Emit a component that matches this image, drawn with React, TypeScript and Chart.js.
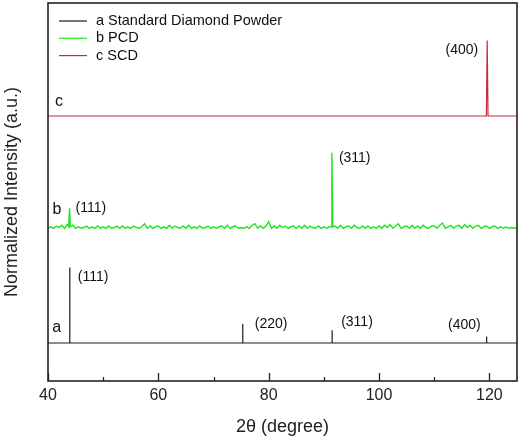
import { useEffect, useRef } from "react";
import { Chart, registerables } from "chart.js";

Chart.register(...registerables);

// ---------- data ----------
const X_MIN = 40;
const X_MAX = 125;
const xTicks = [40, 60, 80, 100, 120];
const xMinorTicks = [50, 70, 90, 110];

const seriesNames = ["a Standard Diamond Powder", "b PCD", "c SCD"];
const seriesLetters = ["a", "b", "c"];
const seriesColors = ["#1c1c1c", "#1ee61e", "#c8283a"];
// vertical offset of each stacked pattern (a.u., y axis 0..100)
const seriesOffsets = [10.05, 40.4, 70.1];
// normalized intensity (%) -> axis units
const INTENSITY_SCALE = 0.2;
const PEAK_FOOT = 0.15;

// a: standard diamond powder (stick pattern)
const aPeakTheta = [43.95, 75.3, 91.5, 119.5];
const aPeakIntensity = [100, 25, 17, 8.5];
const aPeakLabels = ["(111)", "(220)", "(311)", "(400)"];

// b: PCD
const bPeakTheta = [43.9, 91.45];
const bPeakIntensity = [26.5, 100];
const bPeakLabels = ["(111)", "(311)"];
const bNoiseStart = 40;
const bNoiseStep = 0.5;
const bNoise = [
  0, 2, 0, 3, 1, 4, 0, 5, 1, 4, 0, 2, 0, 1, 3, 0, 2, 0, 3, 0,
  2, 0, 3, 0, 1, 3, 0, 3, 0, 2, 0, 3, 1, 0, 2, 6, 0, 3, 0, 2,
  3, 0, 2, 0, 4, 0, 3, 1, 0, 3, 0, 4, 0, 2, 0, 3, 0, 1, 3, 0,
  2, 0, 2, 3, 0, 4, 0, 2, 3, 0, 1, 0, 2, 0, 4, 6, 0, 3, 0, 3,
  9, 0, 3, 0, 4, 1, 3, 0, 2, 3, 0, 3, 0, 4, 0, 3, 1, 0, 3, 0,
  2, 0, 2, 3, 3, 0, 4, 0, 2, 3, 0, 4, 1, 0, 3, 0, 3, 0, 2, 0,
  3, 0, 4, 1, 5, 0, 3, 6, 0, 2, 3, 0, 4, 0, 3, 0, 4, 1, 0, 3,
  3, 0, 4, 7, 0, 2, 4, 0, 3, 4, 0, 5, 1, 4, 0, 3, 4, 0, 2, 3,
  0, 2, 3, 0, 2, 0, 2, 0, 1, 0, 1,
];
const bFoot = 2;

// c: SCD
const cPeakTheta = [119.6];
const cPeakIntensity = [100];
const cPeakLabels = ["(400)"];

// ---------- label layout (pixel offsets) ----------
// dx: from peak pixel, dy: from series baseline pixel (text baseline), align
const aLabelLayout = [
  { dx: 8, dy: -61.6, align: "left" },
  { dx: 12, dy: -15, align: "left" },
  { dx: 9, dy: -16.6, align: "left" },
  { dx: -6, dy: -13.6, align: "right" },
];
const bLabelLayout = [
  { dx: 6, dy: -16.5, align: "left" },
  { dx: 7, dy: -66.3, align: "left" },
];
const cLabelLayout = [{ dx: -9, dy: -62, align: "right" }];
const letterLayout = [
  { dx: 8.7, dy: -11.3 },
  { dx: 9, dy: -14.3 },
  { dx: 11, dy: -10 },
];

const FONT = '"Liberation Sans", Arial, Helvetica, sans-serif';

type Pt = { x: number; y: number };

function sticks(theta: number[], inten: number[], offset: number): Pt[] {
  const pts: Pt[] = [{ x: X_MIN, y: offset }];
  theta.forEach((t, i) => {
    pts.push({ x: t, y: offset });
    pts.push({ x: t, y: offset + inten[i] * INTENSITY_SCALE });
    pts.push({ x: t, y: offset });
  });
  pts.push({ x: X_MAX, y: offset });
  return pts;
}

function peaked(theta: number[], inten: number[], offset: number, foot: number, noise?: number[]): Pt[] {
  const pts: Pt[] = [];
  if (noise) {
    noise.forEach((v, i) => {
      const t = bNoiseStart + i * bNoiseStep;
      if (theta.some((p) => Math.abs(p - t) < 0.3)) return;
      pts.push({ x: t, y: offset + v * INTENSITY_SCALE });
    });
  } else {
    pts.push({ x: X_MIN, y: offset });
    pts.push({ x: X_MAX, y: offset });
  }
  theta.forEach((t, i) => {
    pts.push({ x: t - PEAK_FOOT, y: offset + foot * INTENSITY_SCALE });
    pts.push({ x: t, y: offset + inten[i] * INTENSITY_SCALE });
    pts.push({ x: t + PEAK_FOOT, y: offset + foot * INTENSITY_SCALE });
  });
  pts.sort((p, q) => p.x - q.x);
  return pts;
}

const annotatePlugin = {
  id: "annotate",
  afterDatasetsDraw(chart: any) {
    const { ctx, chartArea } = chart;
    const x = chart.scales.x;
    const y = chart.scales.y;
    const { left, right, top, bottom } = chartArea;
    ctx.save();

    // frame
    ctx.strokeStyle = "#222";
    ctx.lineWidth = 1.6;
    ctx.strokeRect(left, top, right - left, bottom - top);

    // inward ticks
    ctx.lineWidth = 1.3;
    ctx.beginPath();
    xTicks.forEach((v) => {
      const px = Math.round(x.getPixelForValue(v)) + 0.5;
      ctx.moveTo(px, bottom);
      ctx.lineTo(px, bottom - 8);
    });
    xMinorTicks.forEach((v) => {
      const px = Math.round(x.getPixelForValue(v)) + 0.5;
      ctx.moveTo(px, bottom);
      ctx.lineTo(px, bottom - 4);
    });
    ctx.stroke();

    // legend
    ctx.font = `14.5px ${FONT}`;
    ctx.textBaseline = "middle";
    ctx.textAlign = "left";
    seriesNames.forEach((name, i) => {
      const cy = top + 18 + i * 17.3;
      ctx.strokeStyle = seriesColors[i];
      ctx.lineWidth = 1.2;
      ctx.beginPath();
      ctx.moveTo(left + 11, cy);
      ctx.lineTo(left + 39, cy);
      ctx.stroke();
      ctx.fillStyle = "#111";
      ctx.fillText(name, left + 48, cy);
    });

    // series letters
    ctx.font = `16px ${FONT}`;
    ctx.textBaseline = "alphabetic";
    ctx.textAlign = "center";
    ctx.fillStyle = "#111";
    seriesLetters.forEach((l, i) => {
      const by = y.getPixelForValue(seriesOffsets[i]);
      ctx.fillText(l, x.getPixelForValue(X_MIN) + letterLayout[i].dx, by + letterLayout[i].dy);
    });

    // peak labels
    ctx.font = `14px ${FONT}`;
    const drawLabels = (theta: number[], labels: string[], layout: any[], offset: number) => {
      const by = y.getPixelForValue(offset);
      theta.forEach((t, i) => {
        const L = layout[i];
        ctx.textAlign = L.align;
        ctx.fillText(labels[i], x.getPixelForValue(t) + L.dx, by + L.dy);
      });
    };
    drawLabels(aPeakTheta, aPeakLabels, aLabelLayout, seriesOffsets[0]);
    drawLabels(bPeakTheta, bPeakLabels, bLabelLayout, seriesOffsets[1]);
    drawLabels(cPeakTheta, cPeakLabels, cLabelLayout, seriesOffsets[2]);

    ctx.restore();
  },
};

export default function App() {
  const ref = useRef<HTMLCanvasElement | null>(null);

  useEffect(() => {
    if (!ref.current) return;
    const data = [
      sticks(aPeakTheta, aPeakIntensity, seriesOffsets[0]),
      peaked(bPeakTheta, bPeakIntensity, seriesOffsets[1], bFoot, bNoise),
      peaked(cPeakTheta, cPeakIntensity, seriesOffsets[2], 0),
    ];
    const chart = new Chart(ref.current, {
      type: "scatter",
      data: {
        datasets: data.map((d, i) => ({
          label: seriesNames[i],
          data: d,
          showLine: true,
          borderColor: seriesColors[i],
          backgroundColor: seriesColors[i],
          borderWidth: i === 1 ? 1.4 : 1.2,
          pointRadius: 0,
          tension: 0,
          fill: false,
        })),
      },
      options: {
        responsive: false,
        animation: false,
        events: [],
        layout: { padding: { top: 3, right: 3, left: 0, bottom: 0 } },
        plugins: {
          legend: { display: false },
          tooltip: { enabled: false },
        },
        scales: {
          x: {
            type: "linear",
            min: X_MIN,
            max: X_MAX,
            afterBuildTicks: (s: any) => {
              s.ticks = xTicks.map((v) => ({ value: v }));
            },
            afterFit: (s: any) => {
              s.height = 60;
            },
            grid: { display: false, drawTicks: false },
            border: { display: false },
            ticks: {
              padding: 5,
              color: "#222",
              font: { family: FONT, size: 16 },
              maxRotation: 0,
              autoSkip: false,
            },
            title: {
              display: true,
              text: "2θ (degree)",
              color: "#222",
              font: { family: FONT, size: 18 },
              padding: { top: 0, bottom: 3.2 },
            },
          },
          y: {
            type: "linear",
            min: 0,
            max: 100,
            afterFit: (s: any) => {
              s.width = 48;
            },
            grid: { display: false, drawTicks: false },
            border: { display: false },
            ticks: { display: false },
            title: {
              display: true,
              text: "Normalized Intensity (a.u.)",
              color: "#222",
              font: { family: FONT, size: 18 },
              padding: { top: 1, bottom: 0 },
            },
          },
        },
      },
      plugins: [annotatePlugin],
    } as any);
    return () => chart.destroy();
  }, []);

  return (
    <div style={{ position: "fixed", left: 0, top: 0, width: 520, height: 441, background: "#fff" }}>
      <canvas ref={ref} width={520} height={441} style={{ display: "block", width: 520, height: 441 }} />
    </div>
  );
}
